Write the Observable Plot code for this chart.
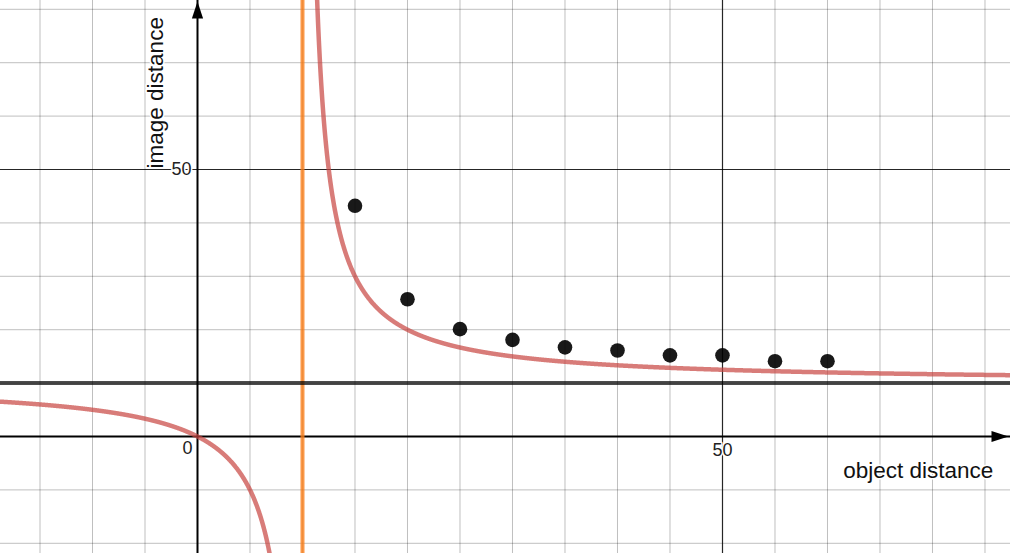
<!DOCTYPE html>
<html>
<head>
<meta charset="utf-8">
<script src="https://cdn.jsdelivr.net/npm/d3@7"></script>
<script src="https://cdn.jsdelivr.net/npm/@observablehq/plot@0.6"></script>
<style>
  html, body { margin: 0; padding: 0; background: #fff; }
  #chart svg { display: block; }
</style>
</head>
<body>
<div id="chart"></div>
<script>
// ---- data ----
const objectDistance = [15, 20, 25, 30, 35, 40, 45, 50, 55, 60];
const imageDistance  = [43.2, 25.7, 20.1, 18.1, 16.7, 16.1, 15.2, 15.2, 14.1, 14.1];
const focalLength = 10;            // vertical asymptote x = f, horizontal asymptote y = f
const gridX = [-15, -10, -5, 5, 10, 15, 20, 25, 30, 35, 40, 45, 55, 60, 65, 70, 75];
const gridY = [-20, -10, 10, 20, 30, 40, 60, 70, 80];
const majorX = [50];
const majorY = [50];
const xTickLabels = [50];
const yTickLabels = [50];
const xLabel = "object distance";
const yLabel = "image distance";

const xDomain = [-18.762, 77.429];
const yDomain = [-21.91, 81.65];

// thin-lens curve 1/u + 1/v = 1/f  ->  v = f u / (u - f)
const lens = x => focalLength * x / (x - focalLength);
const leftBranch = d3.range(-19, focalLength - 0.02, 0.02).map(x => ({x, y: lens(x)}));
const rightBranch = d3.range(focalLength + 0.02, 78, 0.02).map(x => ({x, y: lens(x)}));
const points = objectDistance.map((x, i) => ({x, y: imageDistance[i]}));

const arrowHead = {
  draw(context) {
    context.moveTo(0, 0);
    context.lineTo(5.6, 17);
    context.lineTo(-5.6, 17);
    context.closePath();
  }
};

const font = "'Liberation Sans', Arial, sans-serif";

const chart = Plot.plot({
  width: 1010,
  height: 553,
  margin: 0,
  x: {domain: xDomain, axis: null},
  y: {domain: yDomain, axis: null},
  style: {fontFamily: font, background: "#fff", overflow: "visible"},
  marks: [
    Plot.ruleX(gridX, {stroke: "#000", strokeOpacity: 0.25, strokeWidth: 1}),
    Plot.ruleY(gridY, {stroke: "#000", strokeOpacity: 0.25, strokeWidth: 1}),
    Plot.ruleX(majorX, {stroke: "#000", strokeOpacity: 0.85, strokeWidth: 1.2}),
    Plot.ruleY(majorY, {stroke: "#000", strokeOpacity: 0.85, strokeWidth: 1.2}),
    // axes
    Plot.ruleX([0], {stroke: "#000", strokeWidth: 2}),
    Plot.ruleY([0], {stroke: "#000", strokeWidth: 2}),
    Plot.dot([{x: 0, y: yDomain[1]}], {x: "x", y: "y", symbol: arrowHead, r: 5, fill: "#000", stroke: "none", dy: 1}),
    Plot.dot([{x: xDomain[1], y: 0}], {x: "x", y: "y", symbol: arrowHead, r: 5, fill: "#000", stroke: "none", rotate: 90, dx: -2}),
    // asymptotes
    Plot.ruleX([focalLength], {stroke: "#fa7e19", strokeOpacity: 0.8, strokeWidth: 4}),
    Plot.ruleY([focalLength], {stroke: "#000", strokeOpacity: 0.7, strokeWidth: 4}),
    // curve
    Plot.line(leftBranch, {x: "x", y: "y", stroke: "#c74440", strokeOpacity: 0.7, strokeWidth: 4.5, clip: true}),
    Plot.line(rightBranch, {x: "x", y: "y", stroke: "#c74440", strokeOpacity: 0.7, strokeWidth: 4.5, clip: true}),
    // measured points
    Plot.dot(points, {x: "x", y: "y", r: 7.3, fill: "#000", fillOpacity: 0.9, stroke: "none"}),
    // tick labels
    Plot.text([0], {x: d => d, y: d => 0, text: d => String(d), dx: -10, dy: 12, fontSize: 18, fill: "#222", stroke: "#fff", strokeWidth: 3}),
    Plot.text(xTickLabels, {x: d => d, y: d => 0, text: d => String(d), dy: 14, fontSize: 18, fill: "#222", stroke: "#fff", strokeWidth: 3}),
    Plot.text(yTickLabels, {x: d => 0, y: d => d, text: d => String(d), dx: -6, textAnchor: "end", fontSize: 18, fill: "#222", stroke: "#fff", strokeWidth: 3}),
    // axis titles
    Plot.text([xLabel], {x: () => 75.8, y: () => -6.4, text: d => d, textAnchor: "end", fontSize: 22.5, fill: "#111", stroke: "#fff", strokeWidth: 3}),
    Plot.text([yLabel], {x: () => -4, y: () => 50.2, text: d => d, rotate: -90, textAnchor: "start", fontSize: 22.5, fill: "#111", stroke: "#fff", strokeWidth: 3})
  ]
});
document.getElementById("chart").appendChild(chart);
</script>
</body>
</html>
